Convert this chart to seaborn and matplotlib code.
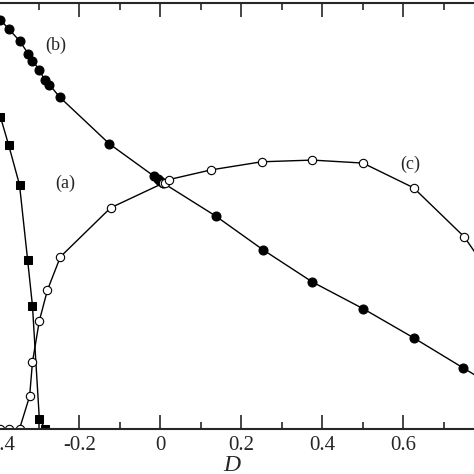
import matplotlib
matplotlib.use("Agg")
import matplotlib.pyplot as plt
import seaborn as sns
import pandas as pd
from matplotlib.ticker import MultipleLocator

a_x = [-0.395, -0.375, -0.348, -0.328, -0.316, -0.299, -0.284]
a_y = [0.732, 0.667, 0.573, 0.397, 0.289, 0.023, 0.0]
b_x = [-0.42, -0.395, -0.375, -0.348, -0.326, -0.316, -0.299, -0.286, -0.274, -0.249, -0.126,
       -0.017, -0.007, 0.0, 0.007, 0.136, 0.254, 0.375, 0.501, 0.625, 0.748, 0.875]
b_y = [1.01, 0.960, 0.939, 0.911, 0.880, 0.864, 0.843, 0.819, 0.808, 0.779, 0.669,
       0.594, 0.587, 0.582, 0.577, 0.500, 0.420, 0.345, 0.282, 0.214, 0.143, 0.07]
c_x = [-0.42, -0.395, -0.375, -0.348, -0.323, -0.316, -0.299, -0.279, -0.247, -0.123,
       0.007, 0.012, 0.02, 0.125, 0.25, 0.375, 0.5, 0.625, 0.75, 0.875]
c_y = [0.0, 0.0, 0.0, 0.0, 0.077, 0.157, 0.254, 0.326, 0.404, 0.519,
       0.577, 0.577, 0.585, 0.608, 0.627, 0.631, 0.624, 0.566, 0.451, 0.28]
labels = ["(a)", "(b)", "(c)"]
label_pos = [(-0.235, 0.577), (-0.259, 0.901), (0.617, 0.62)]

sns.set_style("ticks")
plt.rcParams["font.family"] = ["Liberation Serif"]
fig = plt.figure(figsize=(4.74, 4.74), dpi=100)
ax = fig.add_axes([-0.046, 0.095, 1.068, 0.899])

da = pd.DataFrame({"x": a_x, "y": a_y})
db = pd.DataFrame({"x": b_x, "y": b_y})
dc = pd.DataFrame({"x": c_x, "y": c_y})
sns.lineplot(data=da, x="x", y="y", ax=ax, color="black", lw=1, marker="s", markersize=5.5,
             markeredgecolor="black", markerfacecolor="black", sort=False, estimator=None)
sns.lineplot(data=db, x="x", y="y", ax=ax, color="black", lw=1, marker="o", markersize=6.5,
             markeredgecolor="black", markerfacecolor="black", sort=False, estimator=None)
sns.lineplot(data=dc, x="x", y="y", ax=ax, color="black", lw=1, marker="o", markersize=6,
             markeredgecolor="black", markerfacecolor="white", markeredgewidth=0.8,
             sort=False, estimator=None)
for t, (x, y) in zip(labels, label_pos):
    ax.text(x, y, t, fontsize=13, ha="center", va="center")

ax.set_xlim(-0.45, 0.8)
ax.set_ylim(0, 1)
ax.xaxis.set_major_locator(MultipleLocator(0.2))
ax.xaxis.set_minor_locator(MultipleLocator(0.1))
ax.set_xticks([-0.4, -0.2, 0, 0.2, 0.4, 0.6])
ax.set_xticklabels(["-0.4", "-0.2", "0", "0.2", "0.4", "0.6"])
ax.set_yticks([])
ax.tick_params(axis="x", which="major", direction="in", length=10, top=True, labelsize=15, width=1.2, pad=5)
ax.tick_params(axis="x", which="minor", direction="in", length=5, top=True, width=1.2)
for s in ax.spines.values():
    s.set_linewidth(1.5)
ax.set_xlabel("D", fontsize=17, style="italic", labelpad=0)
ax.set_ylabel("")
fig.savefig("out.png", dpi=100)
